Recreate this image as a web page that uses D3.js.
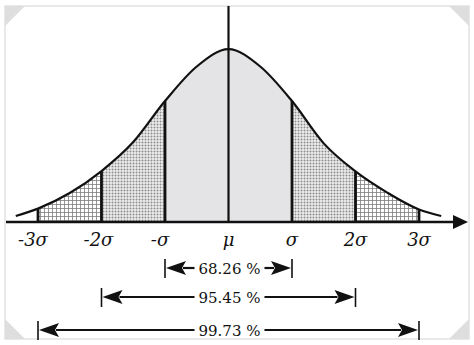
<!DOCTYPE html>
<html>
<head>
<meta charset="utf-8">
<script src="https://cdn.jsdelivr.net/npm/d3@7"></script>
<style>
  html, body { margin: 0; padding: 0; background: #fff; }
  svg { display: block; }
</style>
</head>
<body>
<svg id="canvas" width="474" height="345"></svg>
<script>
// curve, in sigma units / density
const curveZ = [-3.35, -3, -2.5, -2, -1.5, -1, -0.5, 0, 0.5, 1, 1.5, 2, 2.5, 3, 3.35];
const curveDensity = [0.014, 0.031, 0.067, 0.118, 0.185, 0.28, 0.36, 0.4, 0.36, 0.28, 0.182, 0.117, 0.068, 0.029, 0.014];

const tickZ = [-3, -2, -1, 0, 1, 2, 3];
const tickLabels = ["-3σ", "-2σ", "-σ", "μ", "σ", "2σ", "3σ"];

const spanZ = [1, 2, 3];
const spanLabels = ["68.26 %", "95.45 %", "99.73 %"];

const bandFrom = [-1, 1, -2, 2, -3];
const bandTo = [1, 2, -1, 3, -2];
const bandFill = ["url(#pale)", "url(#dots)", "url(#dots)", "url(#grid)", "url(#grid)"];

const svg = d3.select("#canvas");

const x = d3.scaleLinear().domain([-3, 3]).range([38, 419]);
const y = d3.scaleLinear().domain([0, 0.5]).range([222, 6]);

const pts = curveZ.map((z, i) => [z, curveDensity[i]]);

const defs = svg.append("defs");

// light grey for the middle band
let pale = defs.append("pattern").attr("id", "pale")
    .attr("width", 4).attr("height", 4).attr("patternUnits", "userSpaceOnUse");
pale.append("rect").attr("width", 4).attr("height", 4).attr("fill", "#e4e4e6");

// fine dotted texture
let dots = defs.append("pattern").attr("id", "dots")
    .attr("width", 3).attr("height", 3).attr("patternUnits", "userSpaceOnUse");
dots.append("rect").attr("width", 3).attr("height", 3).attr("fill", "#eeeeee");
dots.append("circle").attr("cx", 1.5).attr("cy", 1.5).attr("r", 1).attr("fill", "#8c8c8c");

// square grid
let grid = defs.append("pattern").attr("id", "grid")
    .attr("width", 4).attr("height", 4).attr("patternUnits", "userSpaceOnUse");
grid.append("rect").attr("width", 4).attr("height", 4).attr("fill", "#fff");
grid.append("path").attr("d", "M0,0.5H4M0.5,0V4")
    .attr("stroke", "#7e7e7e").attr("stroke-width", 0.8).attr("fill", "none");

// frame
svg.append("rect").attr("x", 5).attr("y", 6).attr("width", 464).attr("height", 333)
    .attr("fill", "#fff").attr("stroke", "#e2e2e2").attr("stroke-width", 1.5);

const corners = [
  "M5,6 L25,6 L5,26 Z",
  "M469,6 L449,6 L469,26 Z",
  "M5,339 L5,319 L25,339 Z",
  "M469,339 L469,319 L449,339 Z"
];
svg.selectAll("path.corner").data(corners).enter().append("path")
    .attr("class", "corner").attr("d", d => d).attr("fill", "#dedede");

const area = d3.area()
    .x(d => x(d[0]))
    .y0(y(0))
    .y1(d => y(d[1]))
    .curve(d3.curveMonotoneX);

const line = d3.line()
    .x(d => x(d[0]))
    .y(d => y(d[1]))
    .curve(d3.curveMonotoneX);

// shaded bands, each one the same area clipped to its range
bandFrom.forEach((from, i) => {
  let id = "clip" + i;
  defs.append("clipPath").attr("id", id)
      .append("rect")
      .attr("x", x(from)).attr("y", 0)
      .attr("width", x(bandTo[i]) - x(from)).attr("height", y(0));
  svg.append("path")
      .datum(pts)
      .attr("d", area)
      .attr("fill", bandFill[i])
      .attr("clip-path", `url(#${id})`);
});

// sigma verticals
svg.selectAll("line.sig")
    .data(tickZ.filter(z => z !== 0))
    .enter().append("line")
    .attr("class", "sig")
    .attr("x1", z => x(z)).attr("x2", z => x(z))
    .attr("y1", y(0))
    .attr("y2", z => y(curveDensity[curveZ.indexOf(z)]))
    .attr("stroke", "#111").attr("stroke-width", 2.8);

// mean line up to the top of the frame
svg.append("line")
    .attr("x1", x(0)).attr("x2", x(0))
    .attr("y1", y(0)).attr("y2", y(0.5))
    .attr("stroke", "#111").attr("stroke-width", 2.2);

svg.append("path").datum(pts)
    .attr("d", line)
    .attr("fill", "none").attr("stroke", "#111").attr("stroke-width", 2.2);

// horizontal axis with arrow
svg.append("line")
    .attr("x1", 6).attr("x2", 458)
    .attr("y1", y(0)).attr("y2", y(0))
    .attr("stroke", "#111").attr("stroke-width", 2.6);
svg.append("path")
    .attr("d", `M468,${y(0)} L453,${y(0) - 7} L453,${y(0) + 7} Z`)
    .attr("fill", "#111");

// tick labels
svg.selectAll("text.tick")
    .data(tickZ)
    .enter().append("text")
    .attr("class", "tick")
    .attr("x", (z, i) => x(z) + (i === 0 ? -5 : (i === 1 ? -3 : (i === 2 ? -5 : 0))))
    .attr("y", 246)
    .attr("text-anchor", "middle")
    .attr("font-family", "'DejaVu Serif', serif")
    .attr("font-style", "italic")
    .attr("font-size", 18)
    .attr("fill", "#111")
    .text((z, i) => tickLabels[i]);

// percentage spans
const spanY = [268, 297, 330];
const headL = 20, headW = 7;

spanZ.forEach((s, i) => {
  let g = svg.append("g");
  let yy = spanY[i];
  let x0 = x(-s), x1 = x(s);
  let label = g.append("text")
      .attr("x", x(0) + 1).attr("y", yy + 5.5)
      .attr("text-anchor", "middle")
      .attr("font-family", "'DejaVu Serif', serif")
      .attr("font-size", 15)
      .attr("fill", "#111")
      .text(spanLabels[i]);
  let w = label.node().getComputedTextLength();
  let gap = 4;

  g.append("line").attr("x1", x0 + headL - 2).attr("x2", x(0) + 1 - w / 2 - gap)
      .attr("y1", yy).attr("y2", yy)
      .attr("stroke", "#111").attr("stroke-width", 2.2);
  g.append("line").attr("x1", x(0) + 1 + w / 2 + gap).attr("x2", x1 - headL + 2)
      .attr("y1", yy).attr("y2", yy)
      .attr("stroke", "#111").attr("stroke-width", 2.2);

  // end bars
  [x0, x1].forEach(xe => {
    g.append("line").attr("x1", xe).attr("x2", xe)
        .attr("y1", yy - 9).attr("y2", yy + 10)
        .attr("stroke", "#111").attr("stroke-width", 1.6);
  });

  // arrow heads
  g.append("path")
      .attr("d", `M${x0 + 1},${yy} L${x0 + headL + 1},${yy - headW} L${x0 + headL - 3},${yy} L${x0 + headL + 1},${yy + headW} Z`)
      .attr("fill", "#111");
  g.append("path")
      .attr("d", `M${x1 - 1},${yy} L${x1 - headL - 1},${yy - headW} L${x1 - headL + 3},${yy} L${x1 - headL - 1},${yy + headW} Z`)
      .attr("fill", "#111");
});
</script>
</body>
</html>
